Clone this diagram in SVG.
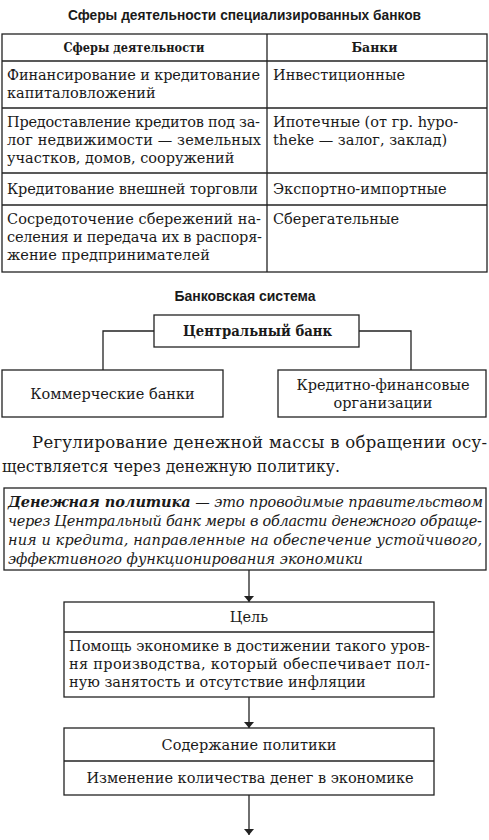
<svg xmlns="http://www.w3.org/2000/svg" width="489" height="840" viewBox="0 0 489 840">
<style>
.bg{fill:#fff}
.box{fill:#fff;stroke:#222;stroke-width:1.3}
.ln{stroke:#222;stroke-width:1.3;fill:none}
.t{font-family:"DejaVu Serif","Liberation Serif",serif;font-size:14.5px;fill:#1a1a1a}
.tb{font-family:"DejaVu Serif","Liberation Serif",serif;font-size:12.5px;font-weight:bold;fill:#1a1a1a}
.ti{font-family:"DejaVu Serif","Liberation Serif",serif;font-size:14.5px;font-style:italic;fill:#1a1a1a}
.h{font-family:"Liberation Sans","DejaVu Sans",sans-serif;font-size:15px;font-weight:bold;fill:#1a1a1a}
.p{font-family:"DejaVu Serif","Liberation Serif",serif;font-size:16.5px;fill:#1a1a1a}
.c{text-anchor:middle}
</style>
<defs>
<marker id="arr" viewBox="0 0 6 10" refX="6" refY="5" markerWidth="6" markerHeight="10" markerUnits="userSpaceOnUse" orient="auto">
<path d="M0,0 L6,5 L0,10 Z" fill="#222"/>
</marker>
</defs>
<rect class="bg" x="0" y="0" width="489" height="840"/>

<g id="table">
<text class="h c" x="244.5" y="20" textLength="353" lengthAdjust="spacingAndGlyphs">Сферы деятельности специализированных банков</text>
<rect class="box" x="2" y="34" width="485" height="238"/>
<line class="ln" x1="267" y1="34" x2="267" y2="272"/>
<line class="ln" x1="2" y1="61" x2="487" y2="61"/>
<line class="ln" x1="2" y1="108" x2="487" y2="108"/>
<line class="ln" x1="2" y1="173" x2="487" y2="173"/>
<line class="ln" x1="2" y1="205" x2="487" y2="205"/>
<text class="tb c" x="134" y="52" textLength="141" lengthAdjust="spacingAndGlyphs">Сферы деятельности</text>
<text class="tb c" x="374.5" y="52">Банки</text>
<text class="t" x="7" y="80" textLength="253" lengthAdjust="spacing">Финансирование и кредитование</text>
<text class="t" x="7" y="98">капиталовложений</text>
<text class="t" x="273" y="80">Инвестиционные</text>
<text class="t" x="7" y="127" textLength="253" lengthAdjust="spacing">Предоставление кредитов под за-</text>
<text class="t" x="7" y="145" textLength="254" lengthAdjust="spacing">лог недвижимости — земельных</text>
<text class="t" x="7" y="163">участков, домов, сооружений</text>
<text class="t" x="273" y="127">Ипотечные (от гр. hypo-</text>
<text class="t" x="273" y="145">theke — залог, заклад)</text>
<text class="t" x="7" y="194" textLength="251" lengthAdjust="spacing">Кредитование внешней торговли</text>
<text class="t" x="273" y="194">Экспортно-импортные</text>
<text class="t" x="7" y="224" textLength="254" lengthAdjust="spacing">Сосредоточение сбережений на-</text>
<text class="t" x="7" y="242" textLength="255" lengthAdjust="spacing">селения и передача их в распоря-</text>
<text class="t" x="7" y="260">жение предпринимателей</text>
<text class="t" x="273" y="224">Сберегательные</text>
</g>

<text class="h c" x="245" y="301" style="font-size:14px">Банковская система</text>

<g id="connectors">
<polyline class="ln" points="154,331 103,331 103,370"/>
<polyline class="ln" points="359,331 411,331 411,370"/>
<line class="ln" x1="249" y1="570" x2="249" y2="602" marker-end="url(#arr)"/>
<line class="ln" x1="249" y1="697" x2="249" y2="728" marker-end="url(#arr)"/>
<line class="ln" x1="249" y1="795" x2="249" y2="835" marker-end="url(#arr)"/>
</g>

<g id="central-bank">
<rect class="box" x="154" y="315" width="205" height="32"/>
<text class="tb c" x="257.5" y="336" style="font-size:14px" textLength="149" lengthAdjust="spacingAndGlyphs">Центральный банк</text>
</g>
<g id="commercial-banks">
<rect class="box" x="2" y="370" width="221" height="47"/>
<text class="t c" x="112.5" y="399">Коммерческие банки</text>
</g>
<g id="credit-orgs">
<rect class="box" x="278" y="370" width="208" height="47"/>
<text class="t c" x="383" y="390">Кредитно-финансовые</text>
<text class="t c" x="383" y="408">организации</text>
</g>

<text class="p" x="32" y="448" textLength="455" lengthAdjust="spacing">Регулирование денежной массы в обращении осу-</text>
<text class="p" x="2" y="472" textLength="338" lengthAdjust="spacingAndGlyphs">ществляется через денежную политику.</text>

<g id="definition">
<rect class="box" x="4" y="488" width="482" height="82"/>
<text class="ti" x="8" y="507" textLength="475" lengthAdjust="spacing"><tspan font-weight="bold">Денежная политика</tspan> — это проводимые правительством</text>
<text class="ti" x="8" y="526" textLength="474" lengthAdjust="spacing">через Центральный банк меры в области денежного обраще-</text>
<text class="ti" x="8" y="545" textLength="474" lengthAdjust="spacing">ния и кредита, направленные на обеспечение устойчивого,</text>
<text class="ti" x="8" y="564">эффективного функционирования экономики</text>
</g>

<g id="goal">
<rect class="box" x="64" y="602" width="370" height="95"/>
<line class="ln" x1="64" y1="632" x2="434" y2="632"/>
<text class="t c" x="249" y="622">Цель</text>
<text class="t" x="69" y="651" textLength="361" lengthAdjust="spacing">Помощь экономике в достижении такого уров-</text>
<text class="t" x="69" y="669" textLength="361" lengthAdjust="spacing">ня производства, который обеспечивает пол-</text>
<text class="t" x="69" y="687">ную занятость и отсутствие инфляции</text>
</g>

<g id="content">
<rect class="box" x="64" y="728" width="370" height="67"/>
<line class="ln" x1="64" y1="761" x2="434" y2="761"/>
<text class="t c" x="249" y="750">Содержание политики</text>
<text class="t c" x="250" y="783">Изменение количества денег в экономике</text>
</g>
</svg>
